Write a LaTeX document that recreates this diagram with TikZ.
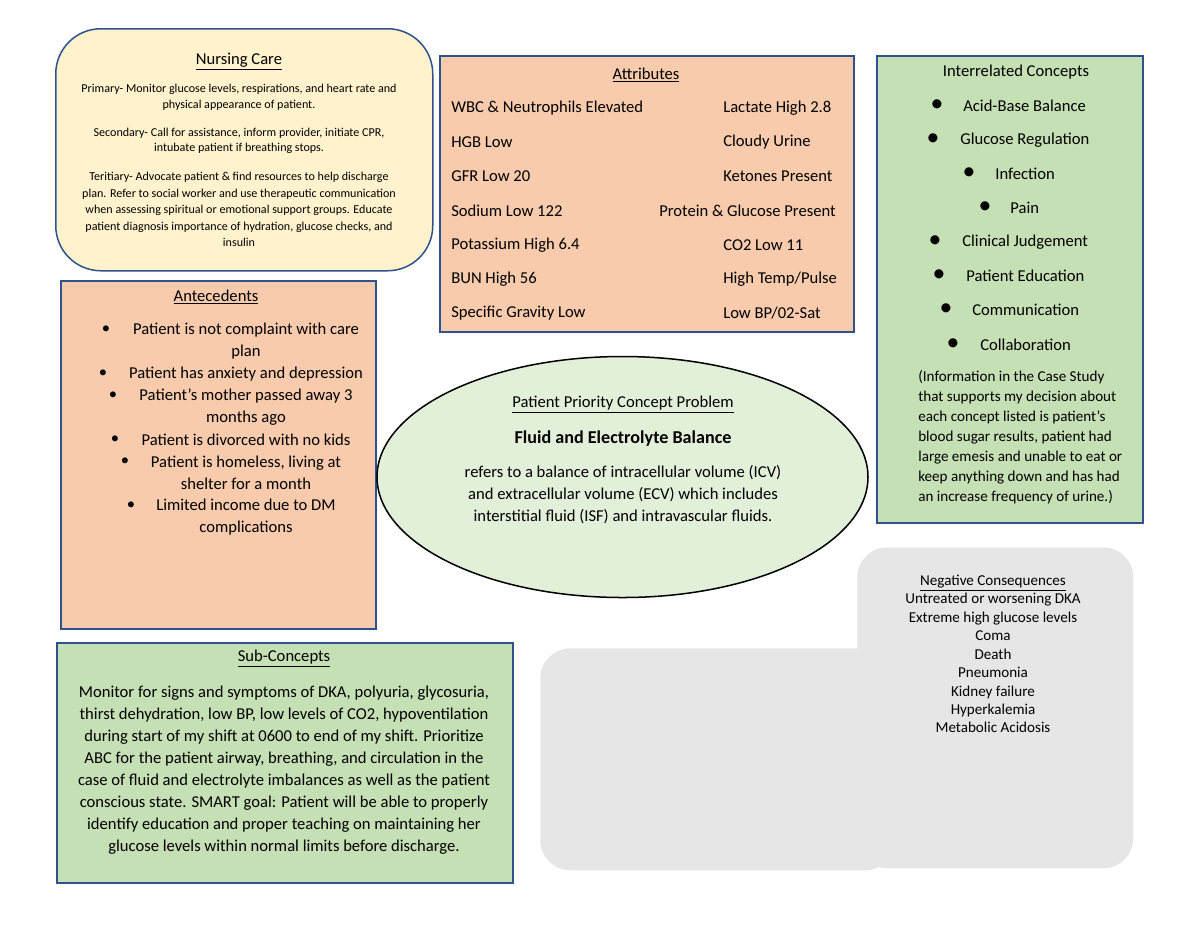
\documentclass[tikz,border=0pt]{standalone}
\usepackage{fontspec}
\setmainfont{Carlito}
\usetikzlibrary{shapes.geometric,positioning}
\definecolor{edgeblue}{HTML}{2F528F}
\definecolor{careyellow}{HTML}{FFF2CC}
\definecolor{attrpeach}{HTML}{F8CBAD}
\definecolor{conceptgreen}{HTML}{C5E0B4}
\definecolor{ovalgreen}{HTML}{E2F0D9}
\definecolor{consgrey}{HTML}{E7E6E6}
\newcommand\pxl{0.2328mm}
\tikzset{
  panel/.style={draw=edgeblue, line width=1pt, anchor=north west, inner sep=0pt},
  heading/.style={font=\fontsize{11}{13}\selectfont},
  entry/.style={font=\fontsize{11}{14.5}\selectfont, inner sep=0pt},
  dot/.style={font=\fontsize{11}{11}\selectfont, inner sep=0pt},
  bigdot/.style={font=\fontsize{17}{17}\selectfont, inner sep=0pt}
}
\begin{document}
\begin{tikzpicture}[x=0.2328mm, y=-0.2328mm]
\useasboundingbox (0,0) rectangle (1200,927);
% negative consequences background
\node (consA) [fill=consgrey, rounded corners=7mm, anchor=north west, inner sep=0pt,
  minimum width={355*\pxl}, minimum height={222*\pxl}] at (540,648) {};
\node (consB) [fill=consgrey, rounded corners=7mm, anchor=north west, inner sep=0pt,
  minimum width={276*\pxl}, minimum height={321*\pxl}] at (857,547) {};
% boxes
\node (care) [panel, fill=careyellow, rounded corners=10.5mm,
  minimum width={377*\pxl}, minimum height={242*\pxl}] at (55,28) {};
\node (attr) [panel, fill=attrpeach,
  minimum width={414*\pxl}, minimum height={276*\pxl}] at (439,55) {};
\node (inter) [panel, fill=conceptgreen,
  minimum width={266*\pxl}, minimum height={467*\pxl}] at (876,55) {};
\node (ante) [panel, fill=attrpeach,
  minimum width={315*\pxl}, minimum height={348*\pxl}] at (60,280) {};
\node (sub) [panel, fill=conceptgreen,
  minimum width={456*\pxl}, minimum height={240*\pxl}] at (56,642) {};
\node (prob) [ellipse, draw=black, line width=1pt, fill=ovalgreen, inner sep=0pt,
  minimum width={491*\pxl}, minimum height={241*\pxl}] at (622.5,477) {};

% nursing care
\node (careT) [heading] at (239,62) {\underline{Nursing Care}};
\node (care1) [align=center, font=\fontsize{8}{10.3}\selectfont] at (239,97)
  {Primary- Monitor glucose levels, respirations, and heart rate and\\
   physical appearance of patient.};
\node (care2) [align=center, font=\fontsize{8}{10.3}\selectfont] at (239,141)
  {Secondary- Call for assistance, inform provider, initiate CPR,\\
   intubate patient if breathing stops.};
\node (care3) [align=center, font=\fontsize{8}{10.9}\selectfont] at (239,209.5)
  {Teritiary- Advocate patient \& find resources to help discharge\\
   plan. Refer to social worker and use therapeutic communication\\
   when assessing spiritual or emotional support groups. Educate\\
   patient diagnosis importance of hydration, glucose checks, and\\
   insulin};

% attributes
\node (attrT) [heading] at (646,75) {\underline{Attributes}};
\foreach \i/\l/\r in {0/{WBC \& Neutrophils Elevated}/{Lactate High 2.8},
    1/{HGB Low}/{Cloudy Urine}, 2/{GFR Low 20}/{Ketones Present},
    4/{Potassium High 6.4}/{CO2 Low 11}, 5/{BUN High 56}/{High Temp/Pulse},
    6/{Specific Gravity Low}/{Low BP/02-Sat}}{
  \node (attrL\i) [entry, anchor=west] at (451,108+34.2*\i) {\l};
  \node (attrR\i) [entry, anchor=west] at (723,108+34.2*\i) {\r};
}
\node (attrL3) [entry, anchor=west] at (451,210.6) {Sodium Low 122};
\node (attrR3) [entry, anchor=west] at (659,210.6) {Protein \& Glucose Present};

% interrelated concepts
\node (interT) [heading] at (1016,72) {Interrelated Concepts};
\foreach \n/\bx/\tx/\y/\t in {1/937/963/106/{Acid-Base Balance},
    2/933/960/140/{Glucose Regulation}, 3/969/995/174/{Infection},
    4/985/1010/208/{Pain}, 5/935/962/242/{Clinical Judgement},
    6/939/966/276/{Patient Education}, 7/946/972/310/{Communication},
    8/953/980/345/{Collaboration}}{
  \node (idot\n) [bigdot] at (\bx,\y) {\textbullet};
  \node (item\n) [entry, anchor=west] at (\tx,\y) {\t};
}
\node (interN) [entry, anchor=west, align=left, font=\fontsize{10}{13.3}\selectfont]
  at (918,437)
  {(Information in the Case Study\\
   that supports my decision about\\
   each concept listed is patient’s\\
   blood sugar results, patient had\\
   large emesis and unable to eat or\\
   keep anything down and has had\\
   an increase frequency of urine.)};

% antecedents
\node (anteT) [heading] at (216,297) {\underline{Antecedents}};
\foreach \n/\bx/\by/\cy/\t in {1/106/330/341/{Patient is not complaint with care\\plan},
    2/103/374/374/{Patient has anxiety and depression},
    3/113/396/407/{Patient’s mother passed away 3\\months ago},
    4/115/440/440/{Patient is divorced with no kids},
    5/125/462/472.5/{Patient is homeless, living at\\shelter for a month},
    6/131/506/517/{Limited income due to DM\\complications}}{
  \node (adot\n) [dot] at (\bx,\by) {\textbullet};
  \node (ante\n) [entry, align=center] at (246,\cy) {\t};
}

% priority problem
\node (probT) [heading] at (623,405) {\underline{Patient Priority Concept Problem}};
\node (probB) [font=\fontsize{12}{14}\bfseries] at (623,439) {Fluid and Electrolyte Balance};
\node (probD) [entry, align=center] at (623,494.5)
  {refers to a balance of intracellular volume (ICV)\\
   and extracellular volume (ECV) which includes\\
   interstitial fluid (ISF) and intravascular fluids.};

% sub-concepts
\node (subT) [heading] at (284,659) {\underline{Sub-Concepts}};
\node (subD) [align=center, inner sep=0pt, font=\fontsize{11}{14.6}\selectfont] at (284,770)
  {Monitor for signs and symptoms of DKA, polyuria, glycosuria,\\
   thirst dehydration, low BP, low levels of CO2, hypoventilation\\
   during start of my shift at 0600 to end of my shift. Prioritize\\
   ABC for the patient airway, breathing, and circulation in the\\
   case of fluid and electrolyte imbalances as well as the patient\\
   conscious state. SMART goal: Patient will be able to properly\\
   identify education and proper teaching on maintaining her\\
   glucose levels within normal limits before discharge.};

% negative consequences
\node (consT) [align=center, inner sep=0pt, font=\fontsize{10}{12.2}\selectfont] at (993,654)
  {\underline{Negative Consequences}\\
   Untreated or worsening DKA\\
   Extreme high glucose levels\\
   Coma\\ Death\\ Pneumonia\\ Kidney failure\\ Hyperkalemia\\
   Metabolic Acidosis};
\end{tikzpicture}
\end{document}
